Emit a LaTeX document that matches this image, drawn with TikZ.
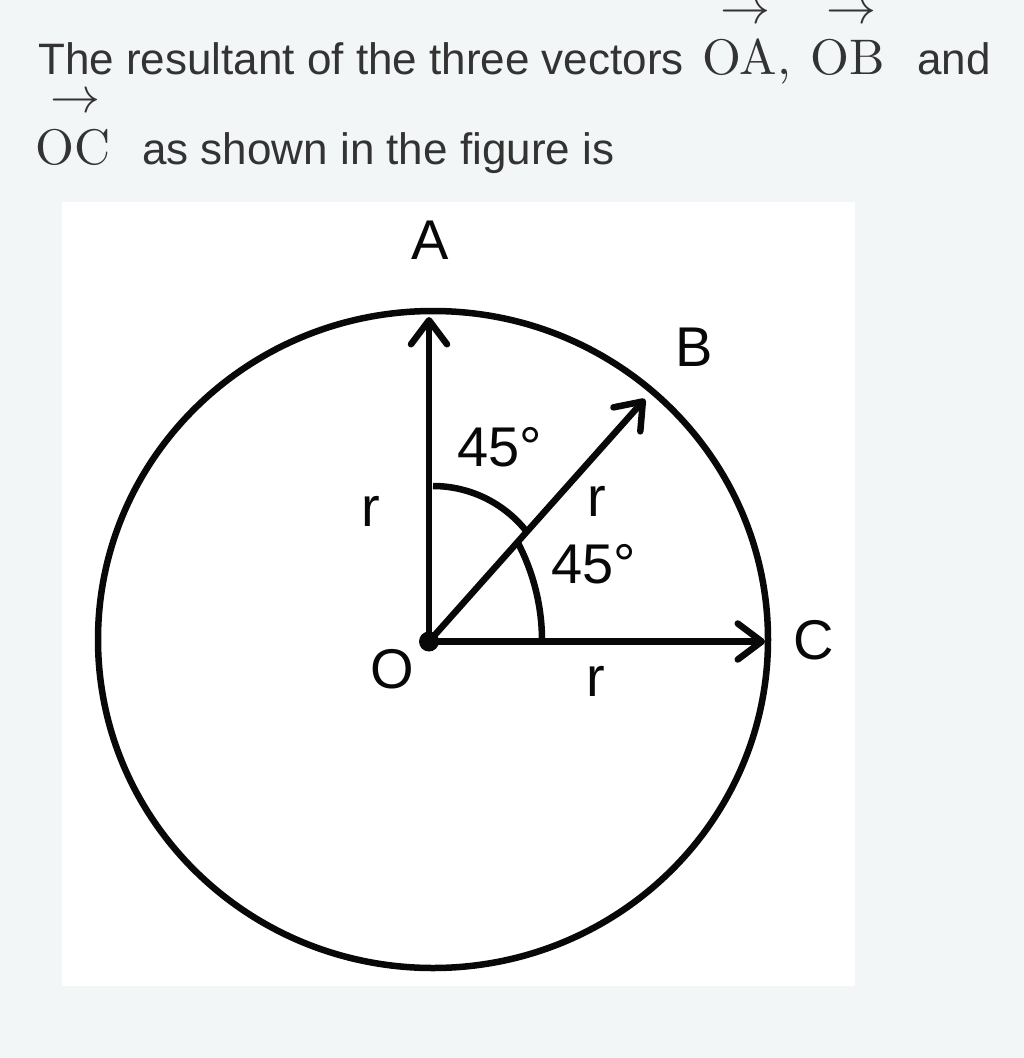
\documentclass[tikz,border=0pt]{standalone}
\usepackage{fontspec}
\newfontfamily\lsans{Liberation Sans}
\usetikzlibrary{arrows.meta}
\definecolor{bg}{HTML}{F3F6F7}
\definecolor{txt}{HTML}{333333}
\definecolor{ink}{HTML}{080808}
\begin{document}
\begin{tikzpicture}[x=1pt,y=-1pt,
  lab/.style={font=\lsans\fontsize{56}{60}\selectfont, text=ink, inner sep=0pt},
  head/.style={font=\lsans\fontsize{44}{50}\selectfont, text=txt, inner sep=0pt, anchor=base west},
  mth/.style={text=txt, inner sep=0pt, anchor=base west},
  arr/.style={inner sep=0pt, text=txt},
  vec/.style={draw=ink, line width=6.5pt, -{Straight Barb[length=24pt,width=36pt,round]}},
  stroke/.style={draw=ink, line width=6.5pt}]
\fill[bg] (0,0) rectangle (1024,1058);
\useasboundingbox (0,0) rectangle (1024,1058);
\fill[white] (62,202) rectangle (855,986);

% header
\node[head] (t1) at (38,74) {The resultant of the three vectors};
\node[mth] (oa) at (702,74) {\scalebox{5}{OA,}};
\node[mth] (ob) at (810,74) {\scalebox{5}{OB}};
\node[head] (t2) at (917,74) {and};
\node[arr] (aoa) at (745,14) {\scalebox{5}{$\rightarrow$}};
\node[arr] (aob) at (851,14) {\scalebox{5}{$\rightarrow$}};
\node[mth] (oc) at (35.5,164) {\scalebox{5}{OC}};
\node[arr] (aoc) at (75,103) {\scalebox{5}{$\rightarrow$}};
\node[head] (t3) at (142,164) {as shown in the figure is};

% circle
\draw[stroke] (433,639.5) ellipse[x radius=335, y radius=328.5];

% points
\coordinate (O) at (429,641.5);
\coordinate (tA) at (429,317);
\coordinate (tB) at (645,399);
\coordinate (tC) at (765,641.5);

% angle arcs
\draw[stroke] (433,486) arc[start angle=-90, end angle=-39, radius=119];
\draw[stroke] (517.2,541.5) arc[start angle=-28, end angle=0, radius=212];

% vectors
\draw[vec] (O) -- (tA);
\draw[vec] (O) -- (tB);
\draw[vec] (O) -- (tC);
\fill[ink] (O) circle[radius=10];

% labels
\node[lab] (lA) at (430,240) {A};
\node[lab] (lB) at (694,347) {B};
\node[lab] (lC) at (814,640) {C};
\node[lab] (lO) at (392,669) {O};
\node[lab] (r1) at (371,511) {r};
\node[lab] (r2) at (597,501) {r};
\node[lab] (r3) at (596,681) {r};
\node[lab] (g1) at (500,447) {45°};
\node[lab] (g2) at (594,564) {45°};
\end{tikzpicture}
\end{document}
